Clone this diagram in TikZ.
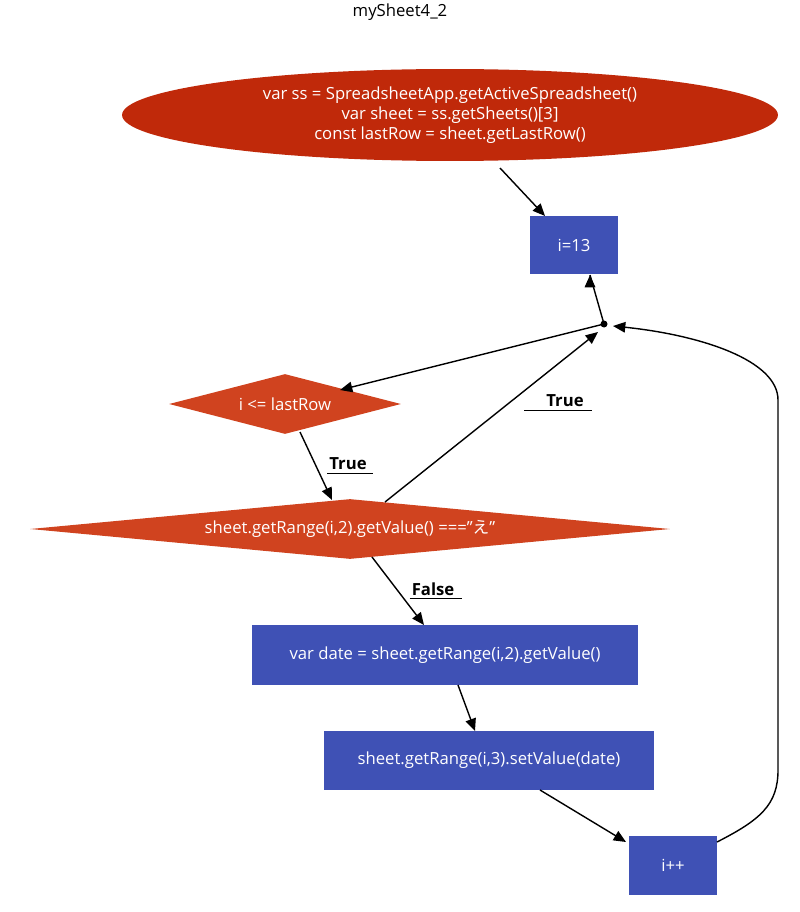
\documentclass[tikz,border=0pt]{standalone}
\usepackage{fontspec}
\setmainfont{Open Sans}
\newfontfamily\cjk{Noto Sans CJK JP}
\usetikzlibrary{shapes,arrows.meta,positioning}
\definecolor{startred}{HTML}{C0290A}
\definecolor{condred}{HTML}{D0431F}
\definecolor{stepblue}{HTML}{3F51B5}
\tikzstyle{start}=[ellipse, fill=startred, text=white, inner sep=0pt, align=center, font=\fontsize{9.5}{11.5}\selectfont]
\tikzstyle{cond}=[diamond, aspect=3.9, fill=condred, text=white, inner sep=0pt, font=\fontsize{9.5}{11.5}\selectfont]
\tikzstyle{action}=[rectangle, fill=stepblue, text=white, inner sep=0pt, font=\fontsize{9.5}{11.5}\selectfont]
\tikzstyle{flow}=[draw=black, thick, -{Triangle[length=7pt,width=6pt]}]
\tikzstyle{lbl}=[font=\bfseries\fontsize{9.5}{11.5}\selectfont, inner sep=1pt]

\begin{document}
\begin{tikzpicture}[x=0.02cm,y=-0.02cm]
            \useasboundingbox (0,0) rectangle (800,912);
            \node[font=\fontsize{9.5}{11.5}\selectfont] (title) at (400,12) {mySheet4\_2};

            \node[start, minimum width=13.12cm, minimum height=1.84cm] (init) at (450,115)
                {var ss = SpreadsheetApp.getActiveSpreadsheet()\\var sheet = ss.getSheets()[3]\\const lastRow = sheet.getLastRow()};
            \node[action, minimum width=1.76cm, minimum height=1.18cm] (i13) at (574,245) {i=13};
            \fill (604,324) circle (3.5);
            \coordinate (join) at (604,324);
            \node[cond, minimum width=4.64cm, minimum height=1.2cm, aspect=3.9] (loop) at (285,404) {i <= lastRow};
            \node[cond, minimum width=12.8cm, minimum height=1.2cm, aspect=10.7] (check) at (350,529)
                {sheet.getRange(i,2).getValue() ==="{\cjk え}"};
            \node[action, minimum width=7.72cm, minimum height=1.2cm] (date) at (445,655) {var date = sheet.getRange(i,2).getValue()};
            \node[action, minimum width=6.62cm, minimum height=1.18cm] (set) at (489,760) {sheet.getRange(i,3).setValue(date)};
            \node[action, minimum width=1.76cm, minimum height=1.18cm] (inc) at (673,865) {i++};

            \begin{scope}[every path/.style={flow}]
                \path (500,168) -- (545,216);
                \path (590,275) edge[-] (join);
                \path (join) -- (340,390);
                \path (300,432) -- (332,500);
                \path (385,502) -- (598,332);
                \path (372,557) -- (424,625);
                \path (458,685) -- (475,731);
                \path (540,790) -- (626,842);
                \path (717,842) .. controls (760,820) and (778,805) .. (778,770) -- (778,400)
                    .. controls (778,360) and (700,335) .. (613,326);
            \end{scope}

            \begin{scope}[every node/.style={lbl}]
                \node (t1) at (348,464) {True};
                \node (t2) at (565,401) {True};
                \node (f1) at (433,589) {False};
            \end{scope}
            \draw (t1.south west) ++(0,1) -- ++(46,0);
            \draw (t2.south west) ++(-20,1) -- ++(68,0);
            \draw (f1.south west) ++(0,1) -- ++(52,0);
        \end{tikzpicture}
\end{document}
